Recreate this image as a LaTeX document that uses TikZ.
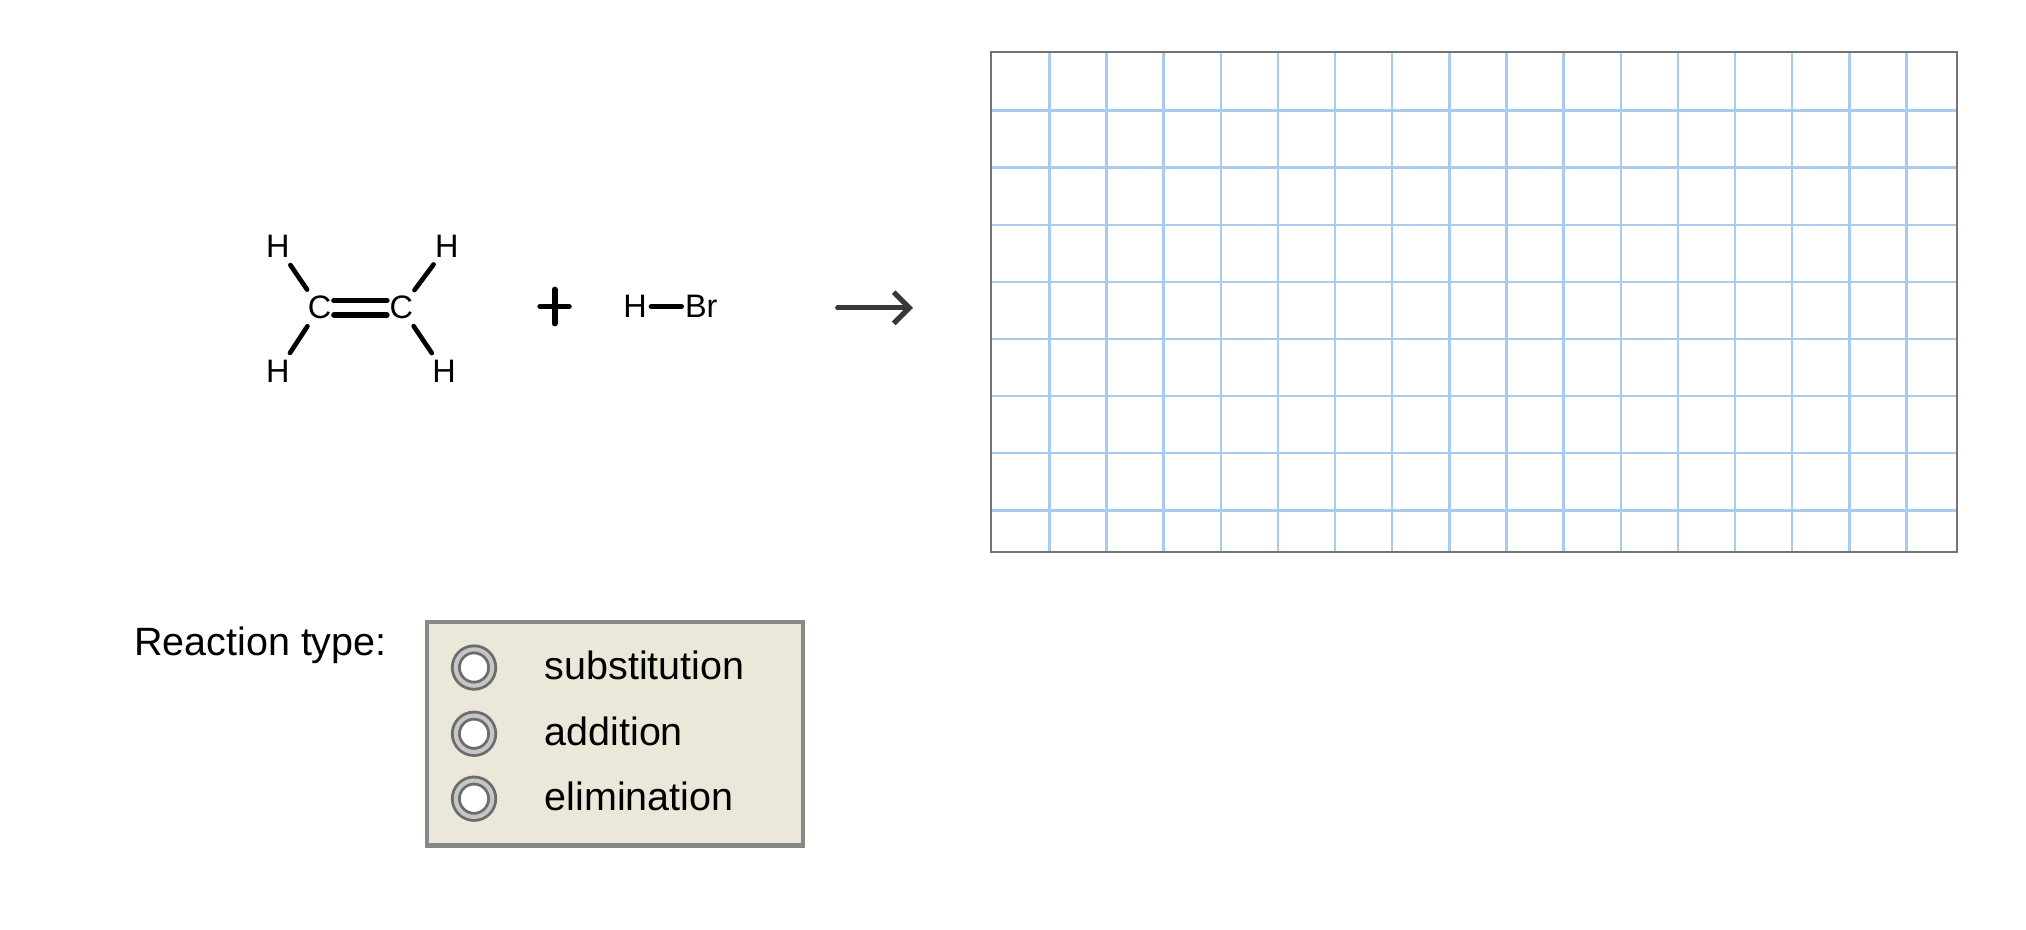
\documentclass[tikz,border=0pt]{standalone}
\usepackage{fontspec}
\setmainfont{Liberation Sans}
\usetikzlibrary{arrows.meta}
\definecolor{gridblue}{HTML}{A8CBEE}
\definecolor{boxfill}{HTML}{ECE8D9}
\definecolor{boxedge}{HTML}{858A88}
\begin{document}
\begin{tikzpicture}[x=0.5pt,y=-0.5pt,
  atom/.style={inner sep=0pt,font=\fontsize{12.5}{14}\selectfont},
  bond/.style={line width=1.8pt,line cap=round,shorten <=8.5pt,shorten >=8.5pt},
  lbl/.style={inner sep=0pt,anchor=west,font=\fontsize{15.2}{18}\selectfont},
  radio/.style={circle,minimum size=14pt,inner sep=0pt,draw=gray!85!black,line width=1.1pt,fill=white,double=gray!45,double distance=1.6pt}]
\useasboundingbox (0,0) rectangle (1560,716);
% ethene
\node[atom] (hTL) at (214,190) {H};
\node[atom] (hTR) at (344,190) {H};
\node[atom] (cL) at (246,237) {C};
\node[atom] (cR) at (309,237) {C};
\node[atom] (hBL) at (214,286) {H};
\node[atom] (hBR) at (342,286) {H};
\draw[bond] (hTL.center) -- (cL.center);
\draw[bond] (hTR.center) -- (cR.center);
\draw[bond] (hBL.center) -- (cL.center);
\draw[bond] (hBR.center) -- (cR.center);
\draw[line width=2pt,line cap=round,shorten <=5.5pt,shorten >=5.5pt] ([yshift=2.8pt]cL.center) -- ([yshift=2.8pt]cR.center);
\draw[line width=2pt,line cap=round,shorten <=5.5pt,shorten >=5.5pt] ([yshift=-2.8pt]cL.center) -- ([yshift=-2.8pt]cR.center);
% plus
\node[inner sep=0pt] (plus) at (427,236) {};
\draw[line width=2.3pt,line cap=round] ([xshift=-5.5pt]plus.center) -- ([xshift=5.5pt]plus.center);
\draw[line width=2.3pt,line cap=round] ([yshift=-6.5pt]plus.center) -- ([yshift=6.5pt]plus.center);
% HBr
\node[atom] (h) at (489,236) {H};
\node[atom] (br) at (540,236) {Br};
\draw[line width=2pt,line cap=round] ([xshift=1.5pt]h.east) -- ([xshift=-1.2pt]br.west);
% arrow
\coordinate (a1) at (645,237);
\coordinate (a2) at (703,237);
\draw[line width=2pt,line cap=round,color=black!78,-{Straight Barb[length=6pt,width=12pt,line width=2pt]}] (a1) -- (a2);
% grid
\coordinate (g0) at (763,40);
\coordinate (g1) at (1507,425);
\foreach \x in {808,852,...,1470} \draw[gridblue,line width=0.9pt] (\x,40) -- (\x,425);
\foreach \y in {85,129,...,393} \draw[gridblue,line width=0.9pt] (763,\y) -- (1507,\y);
\draw[black!55,line width=1pt] (g0) rectangle (g1);
% reaction type
\node[lbl] (rt) at (103,497) {Reaction type:};
\node[draw=boxedge,fill=boxfill,line width=1.6pt,minimum width=144.5pt,minimum height=86pt,inner sep=0pt] (box) at (473.5,565) {};
\node[radio] (r1) at (365,514) {};
\node[radio] (r2) at (365,565) {};
\node[radio] (r3) at (365,615) {};
\node[lbl] (t1) at (419,512) {substitution};
\node[lbl] (t2) at (419,563) {addition};
\node[lbl] (t3) at (419,613) {elimination};
\end{tikzpicture}
\end{document}
